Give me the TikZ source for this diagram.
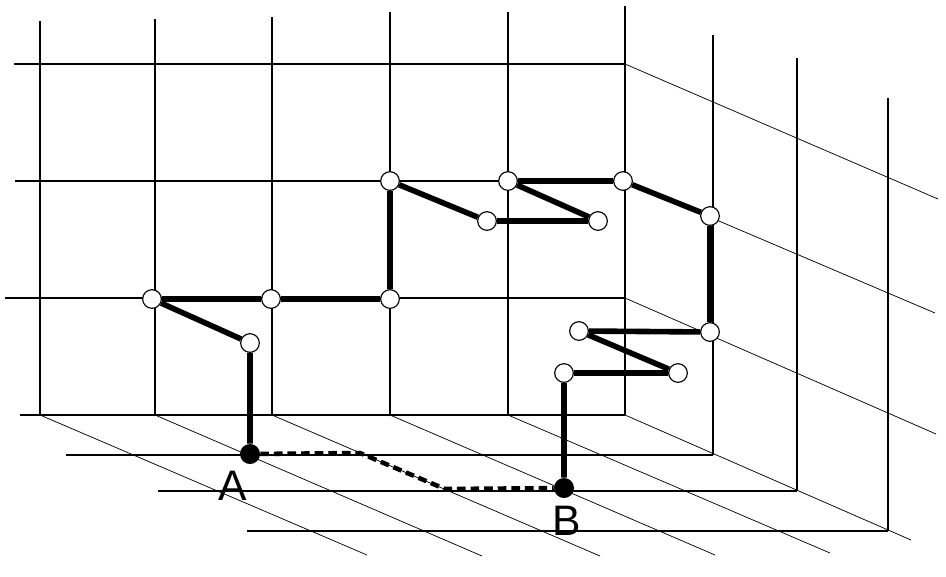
\documentclass[tikz,border=0pt]{standalone}
\usepackage{fontspec}
\setmainfont{Liberation Sans}
\usetikzlibrary{positioning}

\tikzset{
    lattice/.style={line width=0.9pt},
    depthline/.style={line width=0.55pt},
    link/.style={line width=4.2pt},
    walk/.style={line width=3.4pt,dash pattern=on 6.5pt off 3.7pt},
    site/.style={circle,draw,fill=white,line width=0.85pt,inner sep=0pt,minimum size=14pt},
    endsite/.style={circle,fill=black,inner sep=0pt,minimum size=15pt},
    tag/.style={font=\fontsize{32}{32}\selectfont,inner sep=0pt}
}

\begin{document}
\begin{tikzpicture}[x=0.75pt,y=-0.75pt]
            \useasboundingbox (0,0) rectangle (946,576);
            \foreach \xx/\tp in {40/21,155/19,272/17,390/12,508/12,625/6}
                \draw [lattice] (\xx,\tp) -- (\xx,415);
            \foreach \yy/\lf in {64/14,181/15,298/5,415/20}
                \draw [lattice] (\lf,\yy) -- (625,\yy);
            \foreach \xx/\tp/\bt/\lf in {713/35/455/66,797/58/491/158,888/98/531/247}
            {
                \draw [lattice] (\xx,\tp) -- (\xx,\bt);
                \draw [lattice] (\lf,\bt) -- (\xx,\bt);
            }
            \foreach \yy/\ex/\ey in {64/938/199,181/935/313,298/936/434}
                \draw [depthline] (625,\yy) -- (\ex,\ey);
            \foreach \xx/\ex/\ey in {40/367/555,155/482/556,272/600/556,390/715/555,508/830/553,625/911/540}
                \draw [depthline] (\xx,415) -- (\ex,\ey);

            \node [endsite] (A) at (250,454) {};
            \node [site] (p1) at (250,343) {};
            \node [site] (p2) at (152,299) {};
            \node [site] (p3) at (271,299) {};
            \node [site] (p4) at (390,299) {};
            \node [site] (p5) at (390,181) {};
            \node [site] (p6) at (487,221) {};
            \node [site] (p7) at (598,221) {};
            \node [site] (p8) at (508,181) {};
            \node [site] (p9) at (623,181) {};
            \node [site] (p10) at (710,216) {};
            \node [site] (p11) at (710,332) {};
            \node [site] (p12) at (579,331) {};
            \node [site] (p13) at (678,373) {};
            \node [site] (p14) at (564,373) {};
            \node [endsite] (B) at (564,488) {};
            \coordinate (k1) at (360,453);
            \coordinate (k2) at (445,489);

            \draw [link] (A) -- (p1) -- (p2) -- (p3) -- (p4) -- (p5) -- (p6) -- (p7)
                -- (p8) -- (p9) -- (p10) -- (p11) -- (p12) -- (p13) -- (p14) -- (B);
            \draw [walk] (A) -- (k1) -- (k2) -- (B);

            \node [tag] (labelA) at (233,486) {A};
            \node [tag] (labelB) at (567,521) {B};
        \end{tikzpicture}
\end{document}
